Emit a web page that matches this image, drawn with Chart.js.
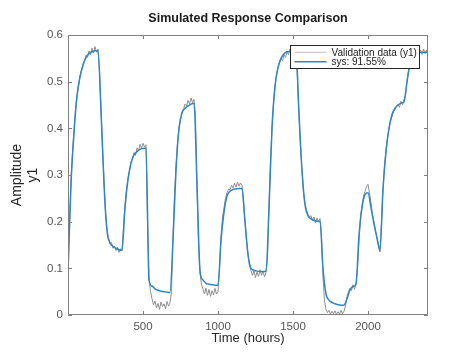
<!DOCTYPE html>
<html>
<head>
<meta charset="utf-8">
<script src="https://cdn.jsdelivr.net/npm/chart.js@4/dist/chart.umd.min.js"></script>
<style>
  html, body { margin: 0; padding: 0; background: #ffffff; }
  #wrap { width: 474px; height: 355px; }
</style>
</head>
<body>
<div id="wrap"><canvas id="c" width="474" height="355"></canvas></div>
<script>
// ---- Data ----
const chartTitle = 'Simulated Response Comparison';
const xAxisTitle = 'Time (hours)';
const yAxisTitle = ['Amplitude', 'y1'];
const seriesLabels = ['Validation data (y1)', 'sys: 91.55%'];

const xTicks = [500, 1000, 1500, 2000];
const yTicks = [0, 0.1, 0.2, 0.3, 0.4, 0.5, 0.6];
const xRange = [0, 2400];
const yRange = [0, 0.6];

// Measured validation data (y1), one sample every 10 hours from 0 to 2400
const dataStep = 10;
const validationData = [
  0.09,0.20,0.29,0.35,0.395,0.44,0.468,0.49,0.512,0.525,
  0.538,0.545,0.556,0.552,0.566,0.558,0.572,0.561,0.575,0.563,
  0.57,0.52,0.44,0.36,0.29,0.22,0.185,0.165,0.152,0.155,
  0.143,0.148,0.138,0.145,0.134,0.142,0.137,0.19,0.235,0.27,
  0.295,0.31,0.328,0.335,0.348,0.342,0.358,0.352,0.366,0.357,
  0.368,0.36,0.365,0.2,0.08,0.05,0.035,0.022,0.03,0.015,
  0.025,0.012,0.028,0.018,0.024,0.013,0.029,0.019,0.026,0.05,
  0.17,0.26,0.32,0.37,0.40,0.418,0.435,0.442,0.452,0.448,
  0.46,0.452,0.465,0.455,0.462,0.43,0.27,0.15,0.09,0.065,
  0.055,0.045,0.058,0.042,0.055,0.04,0.052,0.043,0.057,0.045,
  0.05,0.1,0.17,0.21,0.23,0.25,0.262,0.27,0.268,0.278,
  0.272,0.282,0.274,0.285,0.276,0.283,0.278,0.24,0.2,0.16,
  0.13,0.105,0.095,0.085,0.095,0.08,0.092,0.083,0.097,0.085,
  0.094,0.082,0.091,0.12,0.23,0.33,0.40,0.455,0.49,0.515,
  0.53,0.542,0.55,0.545,0.558,0.552,0.565,0.558,0.57,0.562,
  0.568,0.56,0.572,0.5,0.43,0.36,0.31,0.265,0.24,0.225,
  0.215,0.21,0.213,0.202,0.21,0.198,0.208,0.2,0.207,0.17,
  0.08,0.03,0.012,0.005,0.01,0.002,0.008,0.003,0.009,0.001,
  0.007,0.002,0.01,0.003,0.008,0.02,0.04,0.05,0.058,0.052,
  0.065,0.055,0.068,0.1,0.16,0.21,0.235,0.255,0.265,0.275,
  0.28,0.262,0.24,0.215,0.2,0.18,0.165,0.15,0.135,0.2,
  0.27,0.32,0.355,0.38,0.40,0.415,0.425,0.435,0.44,0.448,
  0.452,0.445,0.458,0.45,0.462,0.47,0.5,0.525,0.54,0.55,
  0.556,0.566,0.558,0.57,0.561,0.568,0.558,0.57,0.56,0.568,
  0.562
];

// Simulated model response (sys), one sample every 20 hours from 0 to 2400
const simStep = 20;
const simResponse = [
  0.09,0.28,0.39,0.47,0.51,0.535,0.552,0.56,0.564,0.566,
  0.566,0.44,0.28,0.18,0.155,0.147,0.143,0.14,0.139,0.23,
  0.29,0.325,0.343,0.35,0.355,0.357,0.358,0.075,0.062,0.056,
  0.053,0.051,0.05,0.049,0.048,0.16,0.31,0.40,0.433,0.443,
  0.448,0.452,0.454,0.28,0.095,0.075,0.068,0.066,0.065,0.064,
  0.064,0.16,0.22,0.255,0.265,0.269,0.27,0.271,0.271,0.2,
  0.13,0.1,0.096,0.094,0.093,0.093,0.093,0.23,0.40,0.49,
  0.53,0.55,0.56,0.564,0.565,0.566,0.566,0.43,0.31,0.236,
  0.213,0.206,0.203,0.201,0.2,0.1,0.045,0.032,0.027,0.024,
  0.022,0.021,0.021,0.035,0.054,0.061,0.066,0.17,0.23,0.258,
  0.262,0.23,0.195,0.165,0.138,0.27,0.35,0.40,0.43,0.443,
  0.45,0.454,0.457,0.5,0.537,0.555,0.56,0.562,0.563,0.563,
  0.564
];

const colors = {
  data: '#8f8f8f',
  dataLegend: '#c4bcc0',
  sim: '#2f86c4',
  axis: '#808080',
  tickText: '#555555',
  title: '#1a1a1a'
};

const FONT = '"Liberation Sans", Arial, Helvetica, sans-serif';

const dataPoints = validationData.map((v, i) => ({ x: i * dataStep, y: v }));
const simPoints = simResponse.map((v, i) => ({ x: i * simStep, y: v }));

// Inward tick marks + box on all four sides (MATLAB style)
const boxTicksPlugin = {
  id: 'boxTicks',
  afterDatasetsDraw(chart) {
    const { ctx, chartArea: a, scales: { x, y } } = chart;
    const len = 4;
    ctx.save();
    ctx.strokeStyle = colors.axis;
    ctx.lineWidth = 1;
    ctx.beginPath();
    ctx.rect(Math.round(a.left) + 0.5, Math.round(a.top) + 0.5,
             Math.round(a.right - a.left) - 1, Math.round(a.bottom - a.top) - 1);
    xTicks.forEach(v => {
      const px = Math.round(x.getPixelForValue(v)) + 0.5;
      ctx.moveTo(px, a.bottom); ctx.lineTo(px, a.bottom - len);
      ctx.moveTo(px, a.top); ctx.lineTo(px, a.top + len);
    });
    yTicks.forEach(v => {
      const py = Math.round(y.getPixelForValue(v)) + 0.5;
      ctx.moveTo(a.left, py); ctx.lineTo(a.left + len, py);
      ctx.moveTo(a.right, py); ctx.lineTo(a.right - len, py);
    });
    ctx.stroke();
    ctx.restore();
  }
};

// Legend box drawn inside the plot, top-right corner
const insideLegendPlugin = {
  id: 'insideLegend',
  afterDraw(chart) {
    const { ctx, chartArea: a } = chart;
    const ds = chart.data.datasets;
    ctx.save();
    ctx.font = '10px ' + FONT;
    const textW = Math.max(...ds.map(d => ctx.measureText(d.label).width));
    const lineLen = 32, gap = 5, padL = 4, padR = 3, rowH = 9.5;
    const w = padL + lineLen + gap + textW + padR;
    const h = rowH * ds.length + 4;
    const right = a.right - 9;
    const left = Math.round(right - w) + 0.5;
    const top = Math.round(a.top + 10) + 0.5;
    ctx.fillStyle = '#ffffff';
    ctx.fillRect(left, top, w, h);
    ctx.strokeStyle = '#262626';
    ctx.lineWidth = 1;
    ctx.strokeRect(left, top, Math.round(w), Math.round(h));
    ds.forEach((d, i) => {
      const cy = top + 2 + rowH * i + rowH / 2;
      ctx.strokeStyle = d.legendColor || d.borderColor;
      ctx.lineWidth = d.borderWidth;
      ctx.beginPath();
      ctx.moveTo(left + padL, cy);
      ctx.lineTo(left + padL + lineLen, cy);
      ctx.stroke();
      ctx.fillStyle = '#1a1a1a';
      ctx.textBaseline = 'middle';
      ctx.textAlign = 'left';
      ctx.fillText(d.label, left + padL + lineLen + gap, cy + 0.5);
    });
    ctx.restore();
  }
};

new Chart(document.getElementById('c'), {
  type: 'line',
  data: {
    datasets: [
      {
        label: seriesLabels[0],
        data: dataPoints,
        borderColor: colors.data,
        legendColor: colors.dataLegend,
        borderWidth: 1,
        pointRadius: 0,
        tension: 0,
        order: 2
      },
      {
        label: seriesLabels[1],
        data: simPoints,
        borderColor: colors.sim,
        borderWidth: 1.5,
        pointRadius: 0,
        cubicInterpolationMode: 'monotone',
        order: 1
      }
    ]
  },
  options: {
    responsive: false,
    animation: false,
    devicePixelRatio: 1,
    parsing: true,
    layout: { padding: { left: 0, right: 46, top: 0, bottom: 0 } },
    plugins: {
      legend: { display: false },
      tooltip: { enabled: false },
      title: {
        display: true,
        fullSize: false,
        text: chartTitle,
        color: colors.title,
        font: { family: FONT, size: 12.5, weight: 'bold', lineHeight: 1.2 },
        padding: { top: 11, bottom: 9 }
      }
    },
    scales: {
      x: {
        type: 'linear',
        min: xRange[0],
        max: xRange[1],
        afterBuildTicks(scale) { scale.ticks = xTicks.map(v => ({ value: v })); },
        afterFit(scale) { scale.height = 40; },
        ticks: {
          color: colors.tickText,
          font: { family: FONT, size: 11.5 },
          padding: 5,
          maxRotation: 0,
          callback: v => String(v)
        },
        grid: { display: false, drawTicks: false },
        border: { display: false },
        title: {
          display: true,
          text: xAxisTitle,
          color: '#262626',
          font: { family: FONT, size: 13, lineHeight: 1.2 },
          padding: { top: 0, bottom: 9 }
        }
      },
      y: {
        type: 'linear',
        min: yRange[0],
        max: yRange[1],
        afterBuildTicks(scale) { scale.ticks = yTicks.map(v => ({ value: v })); },
        afterFit(scale) { scale.width = 68; },
        ticks: {
          color: colors.tickText,
          font: { family: FONT, size: 11.5 },
          padding: 5,
          callback: v => String(Math.round(v * 10) / 10)
        },
        grid: { display: false, drawTicks: false },
        border: { display: false },
        title: {
          display: true,
          text: yAxisTitle,
          color: '#262626',
          font: { family: FONT, size: 14, lineHeight: 1.15 },
          padding: { top: 9, bottom: 0 }
        }
      }
    }
  },
  plugins: [boxTicksPlugin, insideLegendPlugin]
});
</script>
</body>
</html>
